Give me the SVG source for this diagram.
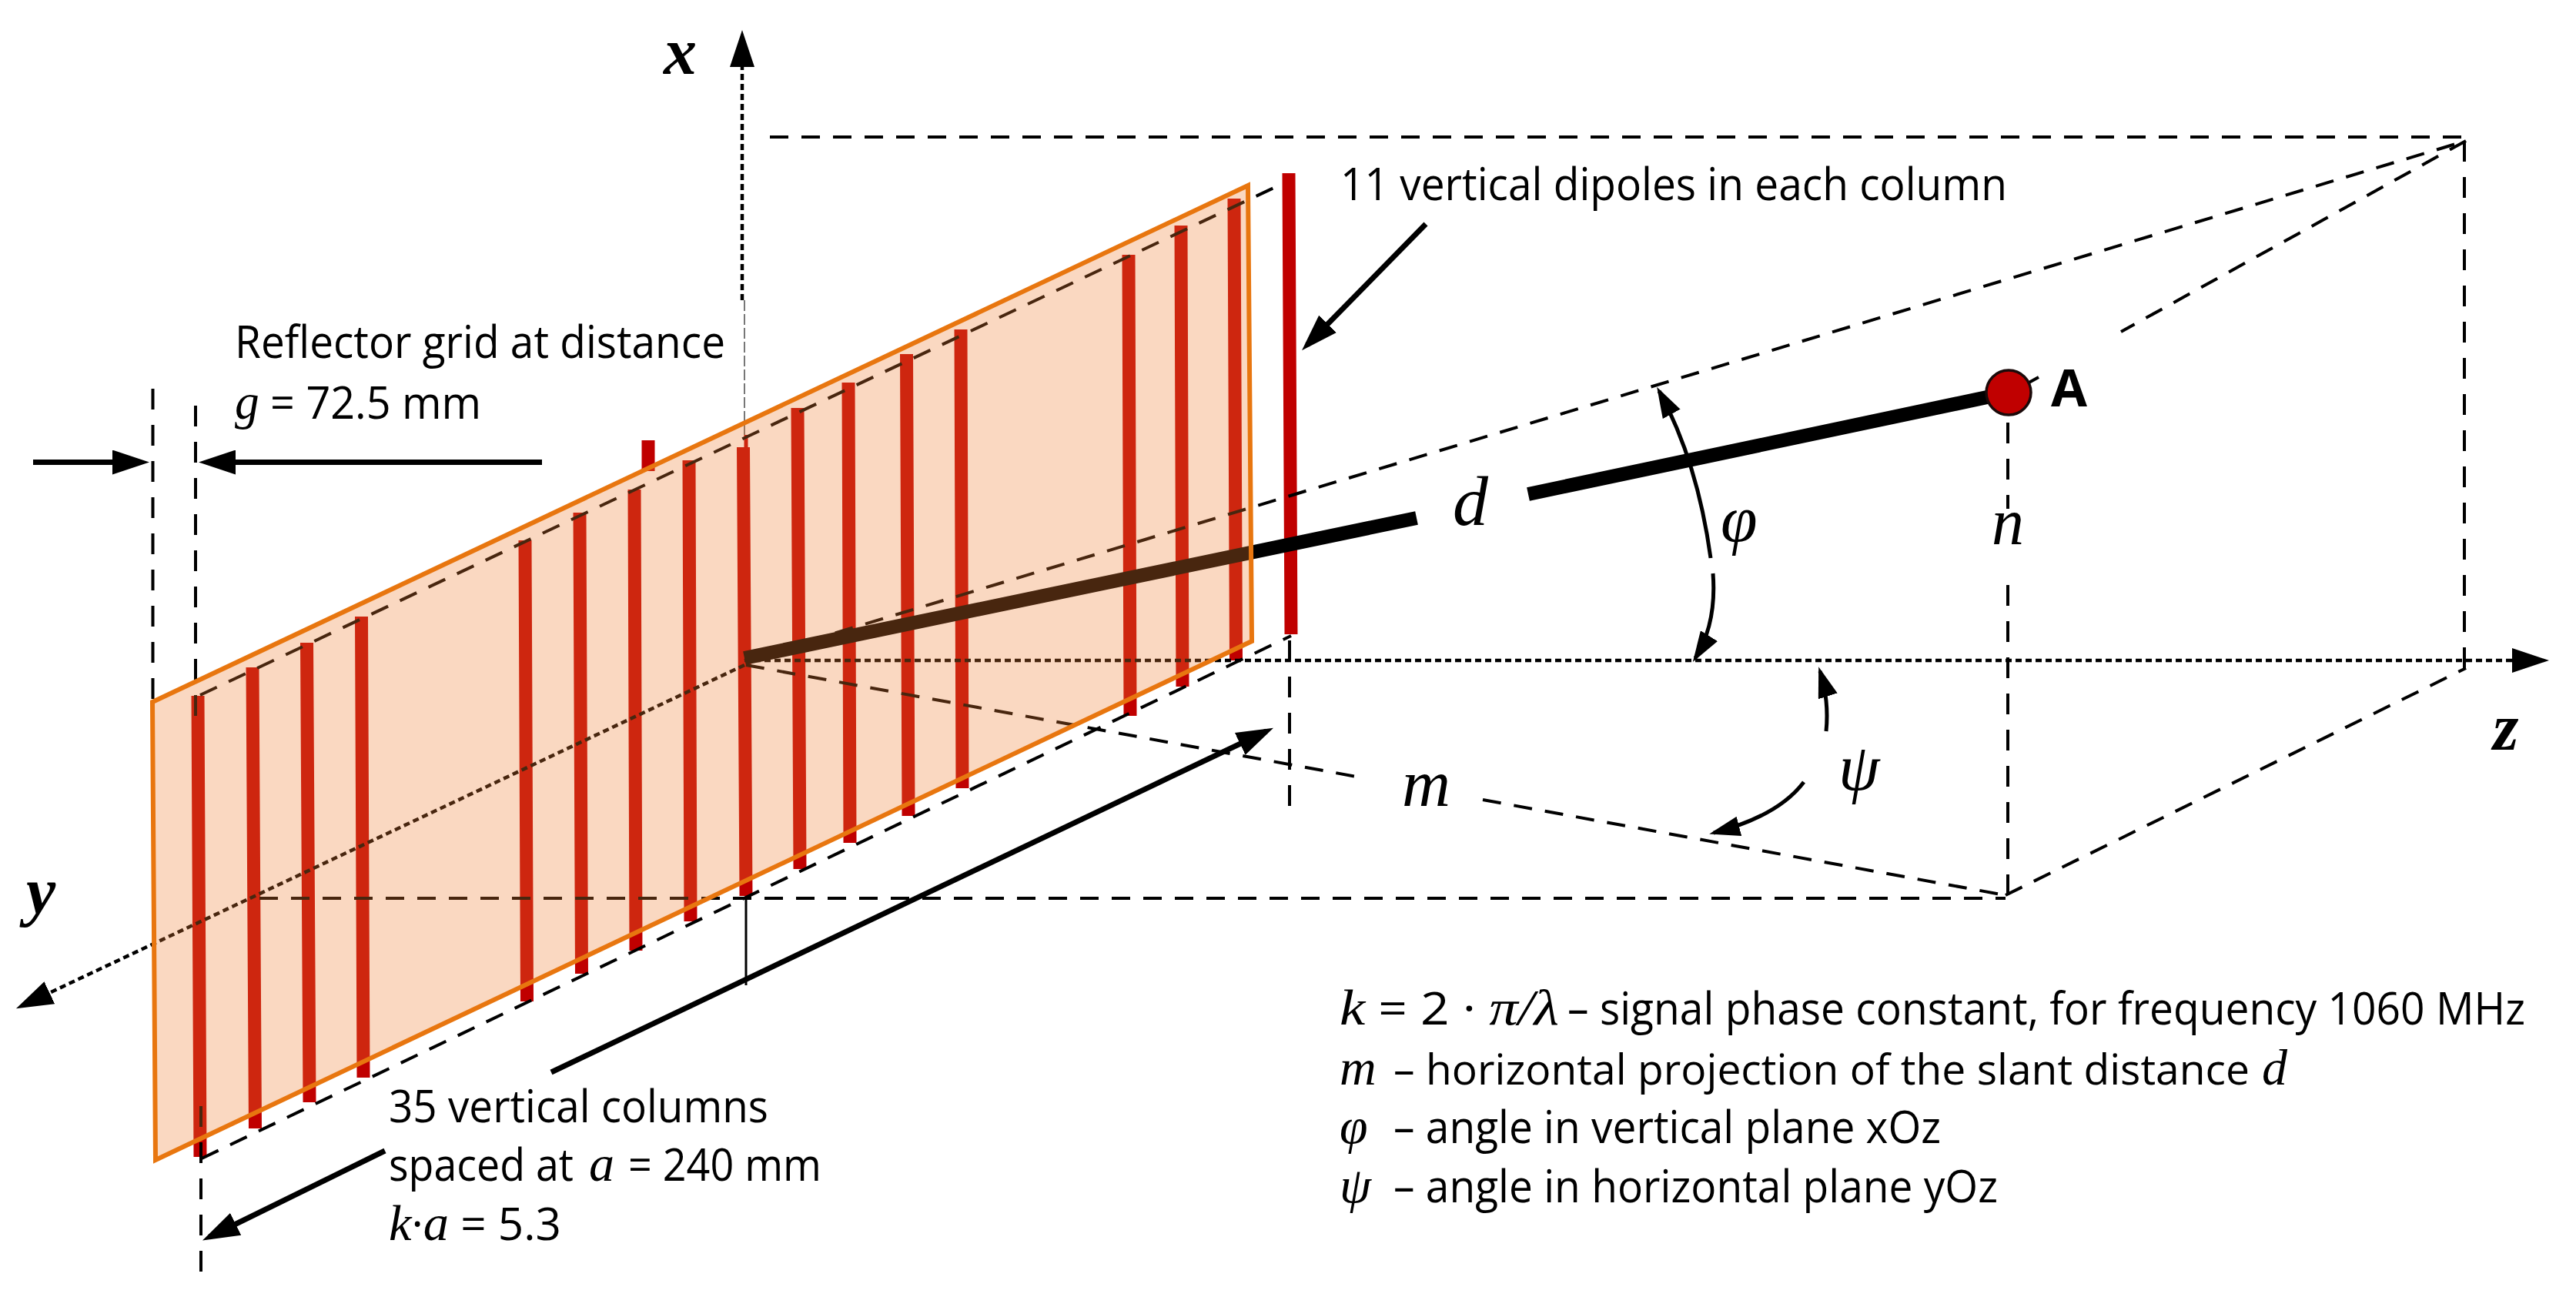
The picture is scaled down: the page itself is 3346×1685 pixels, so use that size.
<svg xmlns="http://www.w3.org/2000/svg" width="3346" height="1685" viewBox="0 0 3346 1685">
<style>
.dash{fill:none;stroke:#000;stroke-width:4;stroke-dasharray:24 17}
.long{fill:none;stroke:#000;stroke-width:4;stroke-dasharray:27 20}
.dot{fill:none;stroke:#000;stroke-width:4.500;stroke-dasharray:8 5}
.arrow{fill:none;stroke:#000;stroke-width:7}
.arc{fill:none;stroke:#000;stroke-width:5}
.dip{stroke:#c00000;stroke-width:17;fill:none}
.thick{stroke:#000;stroke-width:18;fill:none}
.t{font-family:"Open Sans","Noto Sans",sans-serif;font-size:58px;fill:#000}
.m{font-family:"Liberation Serif",serif;font-style:italic;font-size:66px}
.b{font-family:"Liberation Serif",serif;font-style:italic;font-weight:bold;font-size:86px;fill:#000}
.v{font-family:"Liberation Serif",serif;font-style:italic;fill:#000;font-size:86px}
</style>
<defs>
<marker id="h" markerUnits="userSpaceOnUse" viewBox="0 0 48 32" markerWidth="48" markerHeight="32" refX="38" refY="16" orient="auto"><path d="M0 0L48 16L0 32Z" fill="#000"/></marker>
<marker id="s" markerUnits="userSpaceOnUse" viewBox="0 0 40 26" markerWidth="40" markerHeight="26" refX="34" refY="13" orient="auto"><path d="M0 0L40 13L0 26Z" fill="#000"/></marker>
</defs>
<g id="dipoles">
<path class="dip" d="M257 904L260 1503M328 867L331.500 1466M398.500 835L402 1432M469.500 801L472 1400M682 702L684.500 1301M753 666L755.500 1265M824 636L826 1235M895 598L897 1197M965.500 581L969 1164M1036 530L1039 1129M1102 497L1104 1095M1177.500 460L1180 1060M1248 428L1250 1024M1466 331L1468 930M1534 293L1536 892M1603 258L1605.500 858M1674 225L1677 824M842 572L842 612"/>
</g>
<g id="connectors">
<path class="dot" d="M964 390L964 49" marker-end="url(#h)"/>
<path d="M967 390L967 565" fill="none" stroke="#777" stroke-width="2" stroke-dasharray="14 4"/>
<path d="M969 565L969 581" fill="none" stroke="#c00000" stroke-width="5"/>
<path class="dot" d="M967 858L3301 858" marker-end="url(#h)"/>
<path class="dot" d="M967 864L30 1306" marker-end="url(#h)"/>
<path class="dash" d="M1000 178L3203 178"/>
<path class="long" d="M3201 183L3201 868"/>
<path class="dash" d="M967 858L3203 183"/>
<path class="dash" d="M3203 183L2755 431M2648 490L2630 500"/>
<path class="long" d="M2608 549L2608 661M2608 760L2608 1163"/>
<path class="dash" d="M2605 1163L3203 868"/>
<path class="dash" d="M337 1167L2605 1167"/>
<path class="dash" d="M969 864L1773 1011M1926 1039L2605 1163"/>
<path class="dash" d="M260 903L1661 241"/>
<path class="dash" d="M262 1505L1677 826"/>
<path class="long" d="M198.500 505L198.500 912"/>
<path class="long" d="M254 527L254 948"/>
<path class="long" d="M261 1437L261 1658"/>
<path class="long" d="M1675 832L1675 1056"/>
<path d="M969 1165L969 1280" fill="none" stroke="#000" stroke-width="3"/>
<path class="arrow" d="M500 1495L272 1607" marker-end="url(#h)"/>
<path class="arrow" d="M716 1393L1645 950" marker-end="url(#h)"/>
<path class="arrow" d="M43 600.500L184 600.500" marker-end="url(#h)"/>
<path class="arrow" d="M704 600.500L268 600.500" marker-end="url(#h)"/>
<path class="arrow" d="M1852 291L1698 448" marker-end="url(#h)"/>
<path class="arc" d="M2222 725Q2205 600 2155 508" marker-end="url(#s)"/>
<path class="arc" d="M2225 745Q2230 810 2202 855" marker-end="url(#s)"/>
<path class="arc" d="M2372 950Q2376 910 2364 872" marker-end="url(#s)"/>
<path class="arc" d="M2343 1016Q2310 1060 2226 1082" marker-end="url(#s)"/>
<path class="thick" d="M967 855L1840 673M1985 642L2600 512"/>
</g>
<g id="panel">
<polygon points="198,912 1621,241 1626,833 202,1507" fill="#ed7d31" fill-opacity="0.3" stroke="#e8760f" stroke-width="6"/>
</g>
<g id="point-A">
<circle cx="2609" cy="510" r="29" fill="#c00000" stroke="#1a0a0a" stroke-width="3.500"/>
<text x="2664" y="528" font-family="Open Sans,Noto Sans,sans-serif" font-weight="700" font-size="66" textLength="47" lengthAdjust="spacingAndGlyphs">A</text>
</g>
<g id="axis-labels">
<text class="b" x="862" y="96">x</text>
<text class="b" x="34" y="1186">y</text>
<text class="b" x="3238" y="974">z</text>
</g>
<g id="variable-labels">
<text class="v" x="1887" y="682" style="font-size:92px">d</text>
<text class="v" x="2235" y="703">φ</text>
<text class="v" x="2587" y="707" textLength="42" lengthAdjust="spacingAndGlyphs">n</text>
<text class="v" x="1821" y="1047" textLength="63" lengthAdjust="spacingAndGlyphs">m</text>
<text class="v" x="2388" y="1026">ψ</text>
</g>
<g id="annotations">
<text class="t" x="1741" y="260" textLength="866" lengthAdjust="spacingAndGlyphs">11 vertical dipoles in each column</text>
<text class="t" x="305" y="465" textLength="637" lengthAdjust="spacingAndGlyphs">Reflector grid at distance</text>
<text class="t" x="305" y="544" textLength="320" lengthAdjust="spacingAndGlyphs"><tspan class="m">g</tspan> = 72.5 mm</text>
<text class="t" x="505" y="1458" textLength="493" lengthAdjust="spacingAndGlyphs">35 vertical columns</text>
<text class="t" x="505" y="1534" textLength="240" lengthAdjust="spacingAndGlyphs">spaced at</text>
<text class="m" x="765" y="1534">a</text>
<text class="t" x="816" y="1534" textLength="251" lengthAdjust="spacingAndGlyphs">= 240 mm</text>
<text class="t" x="505" y="1611" textLength="224" lengthAdjust="spacingAndGlyphs"><tspan class="m">k</tspan>·<tspan class="m">a</tspan> = 5.3</text>
</g>
<g id="legend">
<text class="t" x="1740" y="1331" textLength="285" lengthAdjust="spacingAndGlyphs"><tspan class="m">k</tspan> = 2 · <tspan class="m">π/λ</tspan></text>
<text class="t" x="2036" y="1331" textLength="1244" lengthAdjust="spacingAndGlyphs">– signal phase constant, for frequency 1060 MHz</text>
<text class="m" x="1740" y="1409">m</text>
<text class="t" x="1810" y="1409" textLength="1112" lengthAdjust="spacingAndGlyphs" style="font-size:55px">– horizontal projection of the slant distance</text>
<text class="m" x="2938" y="1409">d</text>
<text class="m" x="1740" y="1485">φ</text>
<text class="t" x="1810" y="1485" textLength="711" lengthAdjust="spacingAndGlyphs">– angle in vertical plane xOz</text>
<text class="m" x="1740" y="1562">ψ</text>
<text class="t" x="1810" y="1562" textLength="785" lengthAdjust="spacingAndGlyphs">– angle in horizontal plane yOz</text>
</g>
</svg>
